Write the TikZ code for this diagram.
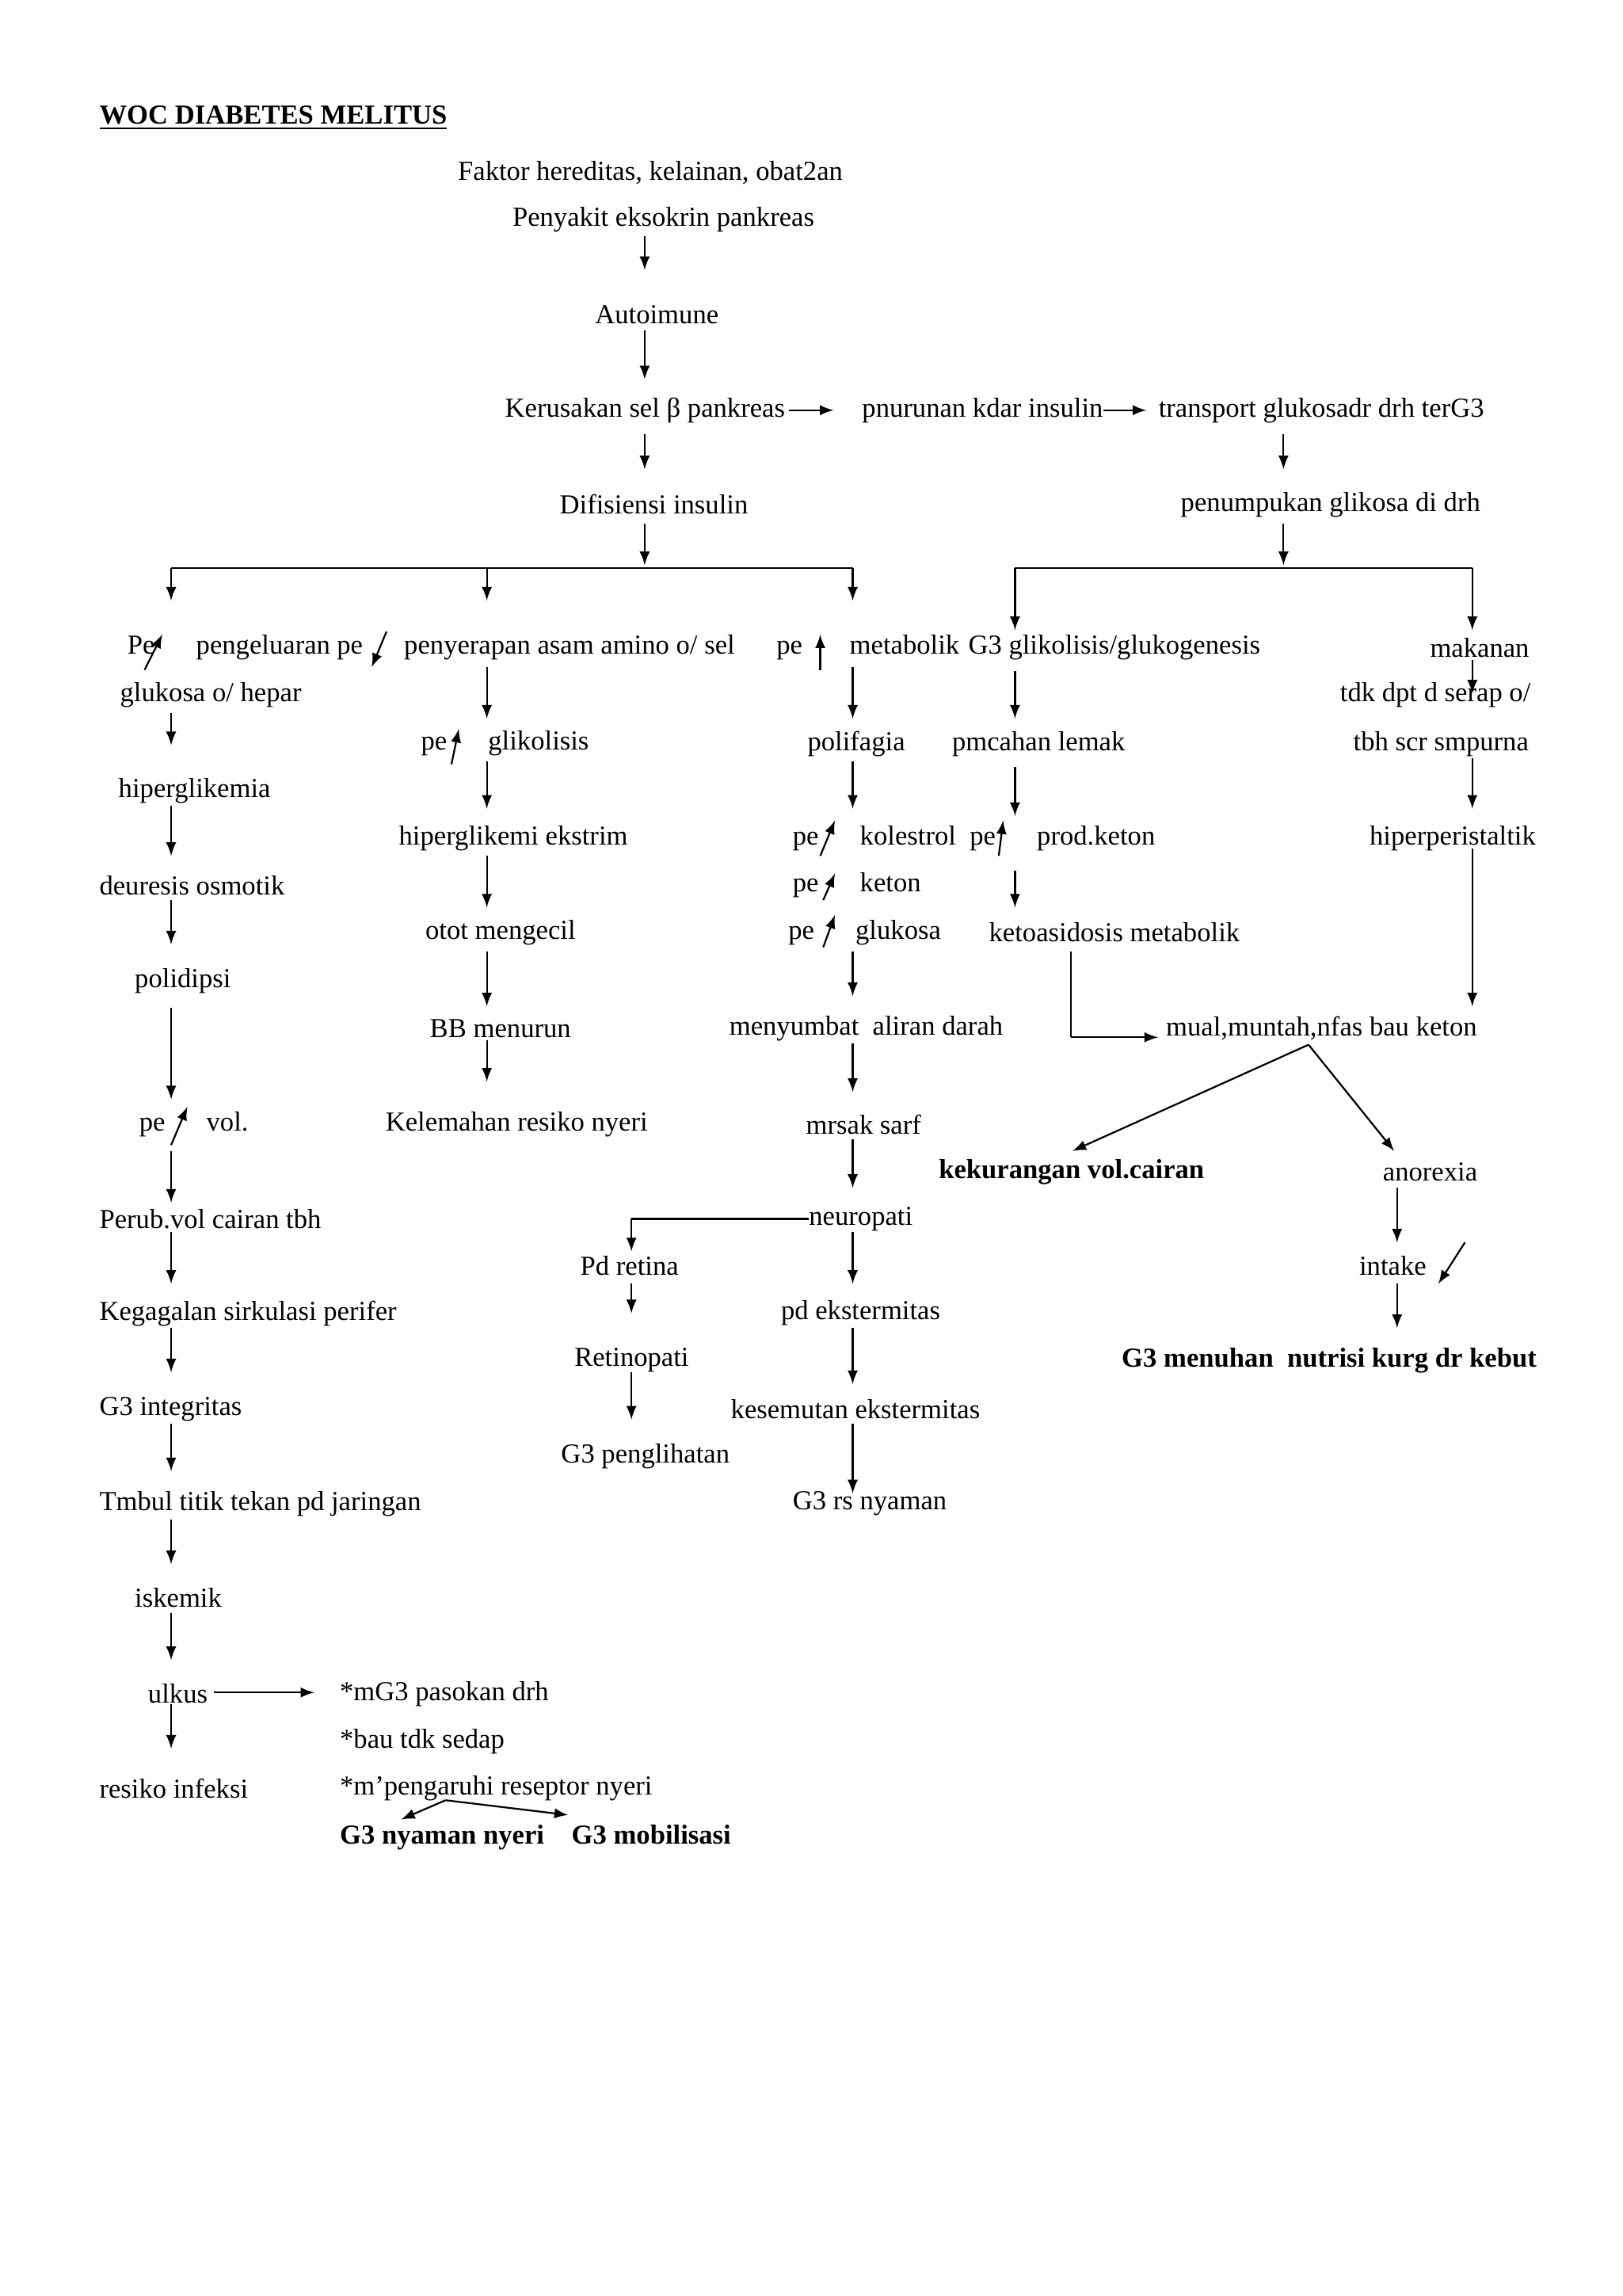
\documentclass[tikz,border=0pt]{standalone}
\usepackage{fontspec}
\setmainfont{Liberation Serif}
\begin{document}
\begin{tikzpicture}[x=0.5pt,y=-0.5pt,
 t/.style={anchor=west,inner sep=0pt,font=\fontsize{9.3}{11}\selectfont},
 b/.style={t,font=\fontsize{9.3}{11}\selectfont\bfseries},
 arr/.style={-latex,line width=0.6pt},
 ln/.style={line width=0.6pt}]
\useasboundingbox[fill=white] (0,0) rectangle (1100,1556);
\node[b] (title) at (67,80) {\underline{WOC DIABETES MELITUS}};
\node[t] (f1) at (310,117) {Faktor hereditas, kelainan, obat2an};
\node[t] (f2) at (347,149) {Penyakit eksokrin pankreas};
\draw[arr] (437,160) -- (437,183);
\node[t] (auto) at (403,213) {Autoimune};
\draw[arr] (437,224) -- (437,257);
\node[t] (ker) at (342,278) {Kerusakan sel β pankreas};
\draw[arr] (535,278) -- (565,278);
\node[t] (pnu) at (584,278) {pnurunan kdar insulin};
\draw[arr] (748,278) -- (777,278);
\node[t] (tr) at (785,278) {transport glukosadr drh terG3};
\draw[arr] (437,294) -- (437,318);
\draw[arr] (870,294) -- (870,318);
\node[t] (dif) at (379,342) {Difisiensi insulin};
\node[t] (pen) at (800,342) {penumpukan glikosa di drh};
\draw[arr] (437,355) -- (437,383);
\draw[ln] (116,385) -- (578,385);
\foreach \x in {116,330,578} \draw[arr] (\x,385) -- (\x,407);
\draw[arr] (870,355) -- (870,383);
\draw[ln] (688,385) -- (998,385);
\foreach \x in {688,998} \draw[arr] (\x,385) -- (\x,427);
% row 439
\node[t] (c1a) at (86,439) {Pe\hspace{14pt}pengeluaran};
\draw[arr] (98,454) -- (110,430);
\node[t] (c1b) at (81,471) {glukosa o/ hepar};
\node[t] (c2a) at (228,439) {pe\hspace{14pt}penyerapan asam amino o/ sel};
\draw[arr] (262,428) -- (252,452);
\node[t] (c3a) at (526,439) {pe\hspace{16pt}metabolik};
\draw[arr] (556,454) -- (556,430);
\node[t] (c4a) at (656,439) {G3 glikolisis/glukogenesis};
\node[t] (mak) at (969,439) {makanan};
\draw[arr] (998,447) -- (998,470);
\node[t] (tdk) at (908,471) {tdk dpt d serap o/};
\node[t] (tbh) at (917,504) {tbh scr smpurna};
\draw[arr] (998,514) -- (998,548);
\node[t] (hp) at (928,568) {hiperperistaltik};
\draw[arr] (998,575) -- (998,682);
% column 1
\draw[arr] (116,483) -- (116,505);
\node[t] (hg) at (80,536) {hiperglikemia};
\draw[arr] (116,546) -- (116,580);
\node[t] (deu) at (67,600) {deuresis osmotik};
\draw[arr] (116,610) -- (116,640);
\node[t] (pol) at (91,665) {polidipsi};
\draw[arr] (116,683) -- (116,745);
\node[t] (vol) at (94,762) {pe\hspace{14pt}vol.};
\draw[arr] (116,776) -- (127,750);
\draw[arr] (116,780) -- (116,815);
\node[t] (per) at (67,826) {Perub.vol cairan tbh};
\draw[arr] (116,835) -- (116,870);
\node[t] (keg) at (67,890) {Kegagalan sirkulasi perifer};
\draw[arr] (116,900) -- (116,930);
\node[t] (int) at (67,955) {G3 integritas};
\draw[arr] (116,965) -- (116,997);
\node[t] (tmb) at (67,1019) {Tmbul titik tekan pd jaringan};
\draw[arr] (116,1030) -- (116,1060);
\node[t] (isk) at (91,1083) {iskemik};
\draw[arr] (116,1093) -- (116,1125);
\node[t] (ulk) at (100,1148) {ulkus};
\draw[arr] (116,1155) -- (116,1185);
\draw[arr] (145,1147) -- (213,1147);
\node[t] (res) at (67,1212) {resiko infeksi};
\node[t] (m1) at (230,1148) {*mG3 pasokan drh};
\node[t] (m2) at (230,1180) {*bau tdk sedap};
\node[t] (m3) at (230,1212) {*m'pengaruhi reseptor nyeri};
\node[b] (g3n) at (230,1245) {G3 nyaman nyeri\quad G3 mobilisasi};
\draw[arr] (302,1220) -- (272,1233);
\draw[arr] (302,1220) -- (385,1230);
% column 2
\draw[arr] (330,452) -- (330,487);
\node[t] (gl) at (285,504) {pe\hspace{14pt}glikolisis};
\draw[arr] (306,518) -- (311,494);
\draw[arr] (330,516) -- (330,548);
\node[t] (he) at (270,568) {hiperglikemi ekstrim};
\draw[arr] (330,580) -- (330,615);
\node[t] (oto) at (288,632) {otot mengecil};
\draw[arr] (330,645) -- (330,682);
\node[t] (bb) at (291,697) {BB menurun};
\draw[arr] (330,705) -- (330,733);
\node[t] (kel) at (261,762) {Kelemahan resiko nyeri};
% column 3
\draw[arr] (578,452) -- (578,487);
\node[t] (pf) at (547,504) {polifagia};
\draw[arr] (578,516) -- (578,548);
\node[t] (ko) at (537,568) {pe\hspace{14pt}kolestrol};
\draw[arr] (556,580) -- (566,556);
\node[t] (ke) at (537,600) {pe\hspace{14pt}keton};
\draw[arr] (558,610) -- (566,592);
\node[t] (gk) at (534,632) {pe\hspace{14pt}glukosa};
\draw[arr] (558,642) -- (566,620);
\draw[arr] (578,645) -- (578,675);
\node[t] (my) at (494,697) {menyumbat\ \ aliran darah};
\draw[arr] (578,707) -- (578,740);
\node[t] (ms) at (546,762) {mrsak sarf};
\draw[arr] (578,772) -- (578,805);
\node[t] (neu) at (548,826) {neuropati};
\draw[ln] (548,826) -- (428,826);
\draw[arr] (428,826) -- (428,848);
\node[t] (pdr) at (393,858) {Pd retina};
\draw[arr] (428,870) -- (428,890);
\node[t] (ret) at (389,922) {Retinopati};
\draw[arr] (428,930) -- (428,962);
\node[t] (gp) at (380,987) {G3 penglihatan};
\draw[arr] (578,835) -- (578,870);
\node[t] (pde) at (529,890) {pd ekstermitas};
\draw[arr] (578,900) -- (578,938);
\node[t] (kes) at (495,955) {kesemutan ekstermitas};
\draw[arr] (578,965) -- (578,1012);
\node[t] (rs) at (537,1019) {G3 rs nyaman};
% column 4
\draw[arr] (688,455) -- (688,487);
\node[t] (pm) at (645,504) {pmcahan lemak};
\draw[arr] (688,520) -- (688,553);
\node[t] (pk) at (657,568) {pe\hspace{14pt}prod.keton};
\draw[arr] (677,580) -- (680,556);
\draw[arr] (688,590) -- (688,615);
\node[t] (kt) at (670,632) {ketoasidosis metabolik};
\draw[ln] (726,645) -- (726,703);
\draw[arr] (726,703) -- (785,703);
\node[t] (mual) at (790,697) {mual,muntah,nfas bau keton};
\draw[arr] (887,708) -- (727,780);
\draw[arr] (887,708) -- (945,780);
\node[b] (kv) at (636,794) {kekurangan vol.cairan};
\node[t] (ano) at (937,794) {anorexia};
\draw[arr] (947,805) -- (947,842);
\node[t] (ik) at (921,858) {intake};
\draw[arr] (993,842) -- (975,870);
\draw[arr] (947,870) -- (947,900);
\node[b] (gm) at (760,922) {G3 menuhan\ \ nutrisi kurg dr kebut};
\end{tikzpicture}
\end{document}
